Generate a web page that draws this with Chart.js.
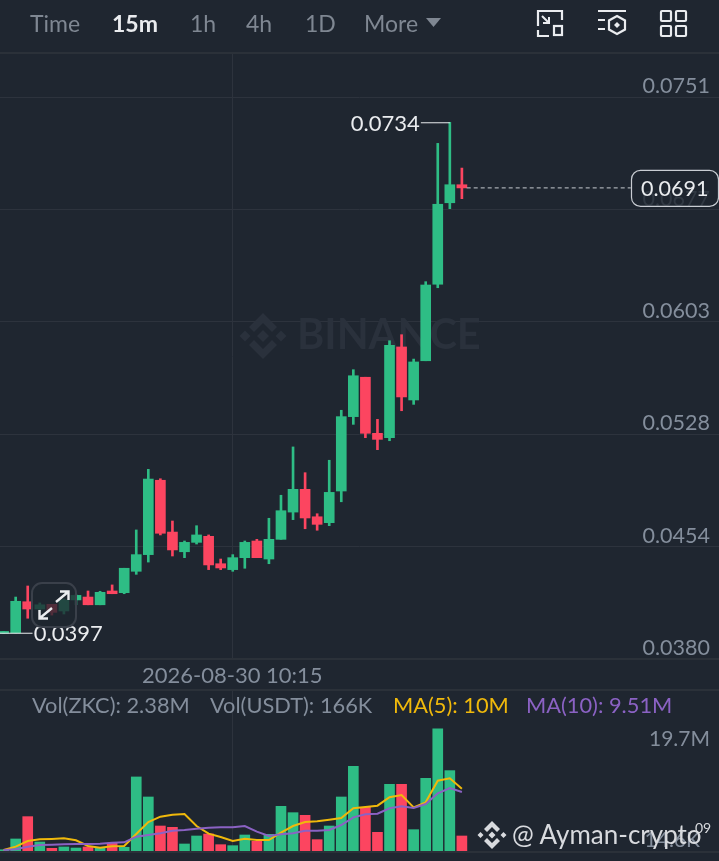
<!DOCTYPE html>
<html>
<head>
<meta charset="utf-8">
<script src="https://cdn.jsdelivr.net/npm/chart.js@4/dist/chart.umd.min.js"></script>
<style>
  html, body { margin: 0; padding: 0; background: #1f2630; }
  #page { position: relative; width: 719px; height: 861px; overflow: hidden; background: #1f2630; font-family: Lato, "Noto Sans", sans-serif; }
  canvas { position: absolute; left: 0; }
  .txt { position: absolute; white-space: nowrap; line-height: 1; }
  .tab { top: 12px; font-size: 23px; color: #7f8792; }
  .leg { top: 694px; font-size: 21.8px; color: #848e9c; }
  .rule { position: absolute; left: 0; width: 719px; background: #2b3139; }
  svg { position: absolute; }
</style>
</head>
<body>
<div id="page">
  <canvas id="PriceChart" width="719" height="680" style="top:0"></canvas>
  <canvas id="VolumeChart" width="719" height="900" style="top:0"></canvas>

  <div class="rule" style="top:52px;height:2px"></div>
  <div class="rule" style="top:658px;height:2px"></div>
  <div class="rule" style="top:689px;height:2px"></div>
  <div class="rule" style="top:851px;height:2px"></div>

  <div class="txt tab" style="left:30px">Time</div>
  <div class="txt tab" style="left:112px;color:#eaecef;font-weight:700">15m</div>
  <div class="txt tab" style="left:190px">1h</div>
  <div class="txt tab" style="left:246px">4h</div>
  <div class="txt tab" style="left:305px">1D</div>
  <div class="txt tab" style="left:364px">More</div>
  <svg style="left:426px;top:18px" width="16" height="10"><path d="M0 0H15L7.5 9Z" fill="#7f8792"/></svg>

  <svg style="left:536px;top:9px" width="30" height="30" fill="none" stroke="#eaecef" stroke-width="2.2">
    <path d="M2 17V2H26V11M2 21V27H13"/><rect x="18" y="17" width="8" height="9"/>
    <path d="M6 7L13 14M13 8V14H7" stroke-width="2"/>
  </svg>
  <svg style="left:596px;top:9px" width="32" height="30" fill="none" stroke="#eaecef" stroke-width="2.2">
    <path d="M2 2H30M2 11H9M2 20H9"/>
    <path d="M21 7L29 11.5V20.5L21 25L13 20.5V11.5Z"/><path d="M21 13L24 16L21 19L18 16Z" fill="#eaecef" stroke="none"/>
  </svg>
  <svg style="left:659px;top:9px" width="30" height="30" fill="none" stroke="#eaecef" stroke-width="2.2">
    <rect x="2" y="2" width="10" height="10" rx="1"/><rect x="17" y="2" width="10" height="10" rx="1"/>
    <rect x="2" y="17" width="10" height="10" rx="1"/><rect x="17" y="17" width="10" height="10" rx="1"/>
  </svg>

  <div class="txt" style="left:142px;top:664px;font-size:22px;color:#848e9c">2026-08-30 10:15</div>

  <div class="txt leg" style="left:32px">Vol(ZKC): 2.38M</div>
  <div class="txt leg" style="left:210px">Vol(USDT): 166K</div>
  <div class="txt leg" style="left:393px;color:#f0b90b">MA(5): 10M</div>
  <div class="txt leg" style="left:526px;color:#8b62c4">MA(10): 9.51M</div>

  <svg style="left:31px;top:582px" width="46" height="46">
    <rect x="1" y="1" width="44" height="44" rx="10" fill="#1f2630" fill-opacity="0.78" stroke="#3a404a" stroke-width="2"/>
    <path d="M25 20L37 10M29 9.500H37.500V18M21 26L9 36M17 36.500H8.500V28" fill="none" stroke="#eaecef" stroke-width="2.4"/>
  </svg>

  <svg style="left:477px;top:820px" width="30" height="30" fill="#d8dade">
    <path d="M15 1L23 9L20 12L15 7L10 12L7 9Z M3.500 12L6.500 15L3.500 18L0.500 15Z M26.500 12L29.500 15L26.500 18L23.500 15Z M15 11.500L18.500 15L15 18.500L11.500 15Z M15 29L23 21L20 18L15 23L10 18L7 21Z"/>
  </svg>
  <div class="txt" style="left:512px;top:821px;font-size:26px;color:#d8dade">@ Ayman-crypto</div>
  <div class="txt" style="left:695px;top:821px;font-size:14px;color:#d8dade">09</div>
</div>
<script>
// candles, oldest first
const opens = [0.0397, 0.03972, 0.04178, 0.0413, 0.04161, 0.04117, 0.0419, 0.04209, 0.04158, 0.04249, 0.04238, 0.04379, 0.04489, 0.0498, 0.04638, 0.04508, 0.0457, 0.0461, 0.04429, 0.0439, 0.04469, 0.04579, 0.0446, 0.0459, 0.0477, 0.0492, 0.04739, 0.047, 0.04909, 0.054, 0.0566, 0.0529, 0.05261, 0.0586, 0.0551, 0.05769, 0.06274, 0.06812, 0.06931];
const closes = [0.03982, 0.04181, 0.0413, 0.04158, 0.04108, 0.0419, 0.0422, 0.04158, 0.0424, 0.04231, 0.04399, 0.04489, 0.04988, 0.0463, 0.0452, 0.0457, 0.04619, 0.04421, 0.04401, 0.04469, 0.0457, 0.04469, 0.0459, 0.04779, 0.0492, 0.04731, 0.04689, 0.049, 0.054, 0.0567, 0.0529, 0.0525, 0.05871, 0.0553, 0.05761, 0.06269, 0.06802, 0.06931, 0.0691];
const highs = [0.03982, 0.04209, 0.04282, 0.0417, 0.04161, 0.04196, 0.04224, 0.04249, 0.04247, 0.04289, 0.04399, 0.04652, 0.05052, 0.0499, 0.04711, 0.04579, 0.0468, 0.04619, 0.0446, 0.04489, 0.04579, 0.0459, 0.04729, 0.04881, 0.052, 0.0503, 0.04759, 0.05112, 0.05442, 0.0571, 0.0566, 0.05382, 0.05901, 0.05941, 0.0578, 0.06291, 0.07204, 0.07343, 0.07041];
const lows = [0.0397, 0.03972, 0.04069, 0.04119, 0.0409, 0.04097, 0.04158, 0.04158, 0.04158, 0.04231, 0.04231, 0.04359, 0.0444, 0.04619, 0.0448, 0.04469, 0.04559, 0.0439, 0.0439, 0.04379, 0.04399, 0.04469, 0.04429, 0.0459, 0.0472, 0.0466, 0.0465, 0.0468, 0.04838, 0.05349, 0.05261, 0.05182, 0.05241, 0.05439, 0.05481, 0.05769, 0.06251, 0.06773, 0.06839];

// volume in millions, plus the two averages as drawn
const volumes = [0.2, 1.94, 5.54, 1.45, 0.43, 0.65, 0.48, 0.65, 0.5, 1.24, 0.6, 11.94, 8.71, 4.03, 3.82, 1.13, 2.42, 2.74, 1.02, 0.86, 2.58, 1.56, 2.69, 7.2, 6.18, 5.75, 1.83, 4.03, 8.71, 13.66, 7.04, 3.01, 10.75, 10.75, 3.44, 11.72, 19.7, 12.96, 2.42];
const ma5 = [0.16, 0.7, 1.61, 1.88, 1.94, 2.04, 1.72, 0.81, 0.54, 0.75, 0.81, 2.74, 4.68, 5.54, 5.86, 5.97, 4.03, 2.8, 2.26, 1.61, 1.99, 1.77, 1.77, 2.96, 4.03, 4.68, 4.78, 5.05, 5.32, 6.88, 7.1, 7.31, 8.66, 9.03, 7.04, 7.85, 11.34, 11.72, 10.05];
const ma10 = [0.16, 0.27, 0.7, 0.97, 1.02, 1.08, 1.13, 1.13, 1.18, 1.34, 1.4, 2.31, 2.58, 2.85, 3.28, 3.39, 3.6, 3.76, 3.82, 3.82, 4.03, 3.12, 2.42, 2.69, 2.85, 3.28, 3.28, 3.39, 4.19, 5.43, 5.91, 6.02, 6.88, 7.2, 6.94, 7.58, 9.3, 10.16, 9.52];

const priceTicks = [0.0751, 0.06768, 0.06026, 0.05284, 0.04542, 0.038];
const lastPrice = 0.0691;
const highPrice = 0.0734;
const lowPrice = 0.0397;
const cursorIndex = 19;

const UP = "#2ebd85";
const DOWN = "#fc4560";
const GRID = "#2d333d";
const TICK = "#848e9c";
const FONT = 'Lato, "Noto Sans", sans-serif';

// candle slots are 12.06px wide, first candle centred at x=3.6
const xMin = -0.2985;
const xMax = 59.32;

Chart.defaults.animation = false;
Chart.defaults.font.family = FONT;

function candleColors() {
  return closes.map((c, i) => (c >= opens[i] ? UP : DOWN));
}

function xScale() {
  return {
    type: "linear",
    min: xMin,
    max: xMax,
    offset: false,
    border: { display: false },
    grid: { color: GRID, drawTicks: false, offset: false },
    ticks: { display: false },
    afterBuildTicks: (axis) => {
      axis.ticks = [{ value: cursorIndex }];
    },
  };
}

//watermark goes under the candles, labels over them
const priceOverlay = {
  id: "priceOverlay",
  beforeDatasetsDraw(chart) {
    const ctx = chart.ctx;
    ctx.save();
    ctx.fillStyle = "#2a313c";
    ctx.font = "700 41.5px " + FONT;
    ctx.textBaseline = "middle";
    ctx.fillText("BINANCE", 297, 336);
    const p = new Path2D("M263 313L277 327L272 332L263 323L254 332L249 327Z M245 330.500L250.500 336L245 341.500L239.500 336Z M281 330.500L286.500 336L281 341.500L275.500 336Z M263 330L269 336L263 342L257 336Z M263 359L277 345L272 340L263 349L254 340L249 345Z");
    ctx.fill(p);
    ctx.restore();
  },
  afterDatasetsDraw(chart) {
    const ctx = chart.ctx;
    const y = chart.scales.y;
    const x = chart.scales.x;
    ctx.save();
    ctx.font = "22px " + FONT;
    ctx.fillStyle = "#eaecef";
    ctx.textBaseline = "middle";
    ctx.textAlign = "right";
    ctx.fillText(highPrice.toFixed(4), x.getPixelForValue(34.5), y.getPixelForValue(highPrice) + 1);
    ctx.textAlign = "left";
    ctx.fillText(lowPrice.toFixed(4), x.getPixelForValue(2.5), y.getPixelForValue(lowPrice) + 1);

    // box sits over the axis label, slightly see-through
    const py = y.getPixelForValue(lastPrice);
    ctx.beginPath();
    ctx.roundRect(631.5, py - 17.5, 87, 36, 9);
    ctx.fillStyle = "rgba(31,38,48,0.82)";
    ctx.fill();
    ctx.strokeStyle = "#c8ccd2";
    ctx.lineWidth = 1.2;
    ctx.stroke();
    ctx.fillStyle = "#eaecef";
    ctx.textAlign = "right";
    ctx.font = "21.5px " + FONT;
    ctx.fillText(lastPrice.toFixed(4), 708.5, py + 1);
    ctx.restore();
  },
};

new Chart(document.getElementById("PriceChart"), {
  type: "bar",
  data: {
    datasets: [
      {
        label: "wick",
        grouped: false,
        barThickness: 2,
        data: highs.map((h, i) => ({ x: i, y: [lows[i], h] })),
        backgroundColor: candleColors(),
        order: 2,
      },
      {
        label: "body",
        grouped: false,
        barThickness: 10,
        data: opens.map((o, i) => ({ x: i, y: [o, closes[i]] })),
        backgroundColor: candleColors(),
        order: 1,
      },
      {
        type: "line",
        label: "last",
        data: [{ x: 38.4, y: lastPrice }, { x: 52, y: lastPrice }],
        borderColor: "#c8ccd2",
        borderWidth: 1,
        borderDash: [4, 3],
        pointRadius: 0,
      },
      {
        type: "line",
        label: "high",
        data: [{ x: 34.6, y: highPrice }, { x: 37, y: highPrice }],
        borderColor: "#eaecef",
        borderWidth: 1,
        pointRadius: 0,
      },
      {
        type: "line",
        label: "low",
        data: [{ x: xMin, y: lowPrice }, { x: 2.4, y: lowPrice }],
        borderColor: "#eaecef",
        borderWidth: 1,
        pointRadius: 0,
      },
    ],
  },
  options: {
    responsive: false,
    layout: { padding: { top: 54, bottom: 21 } },
    plugins: { legend: { display: false }, tooltip: { enabled: false } },
    scales: {
      x: xScale(),
      y: {
        position: "right",
        min: 0.038,
        max: 0.07794,
        border: { display: false },
        grid: { color: GRID, drawTicks: false },
        afterBuildTicks: (axis) => {
          axis.ticks = priceTicks.map((v) => ({ value: v }));
        },
        ticks: {
          mirror: true,
          align: "end",
          padding: -9,
          color: TICK,
          font: { size: 21.5 },
          callback: (v) => v.toFixed(4),
        },
      },
    },
  },
  plugins: [priceOverlay],
});

// canvas runs past the page so the mirrored labels don't eat into the plot height
new Chart(document.getElementById("VolumeChart"), {
  type: "bar",
  data: {
    datasets: [
      {
        label: "MA(5)",
        type: "line",
        data: ma5.map((v, i) => ({ x: i, y: v })),
        borderColor: "#f0b90b",
        borderWidth: 2,
        pointRadius: 0,
        order: 1,
      },
      {
        label: "MA(10)",
        type: "line",
        data: ma10.map((v, i) => ({ x: i, y: v })),
        borderColor: "#8b62c4",
        borderWidth: 2,
        pointRadius: 0,
        order: 0,
      },
      {
        label: "Vol",
        barThickness: 10,
        data: volumes.map((v, i) => ({ x: i, y: v })),
        backgroundColor: candleColors(),
        order: 2,
      },
    ],
  },
  options: {
    responsive: false,
    layout: { padding: { top: 691, bottom: 49 } },
    plugins: { legend: { display: false }, tooltip: { enabled: false } },
    scales: {
      x: xScale(),
      y: {
        position: "right",
        min: 0,
        max: 25.8,
        border: { display: false },
        grid: { display: false },
        afterBuildTicks: (axis) => {
          axis.ticks = [{ value: 19.7 }];
        },
        ticks: {
          mirror: true,
          align: "start",
          padding: -9,
          color: TICK,
          font: { size: 21 },
          callback: (v) => v + "M",
        },
      },
      yBottom: {
        position: "right",
        min: 0,
        max: 25.8,
        border: { display: false },
        grid: { display: false },
        afterBuildTicks: (axis) => {
          axis.ticks = [{ value: 0 }];
        },
        ticks: {
          mirror: true,
          align: "end",
          padding: -9,
          color: TICK,
          font: { size: 21 },
          callback: () => "14.6K",
        },
      },
    },
  },
});
</script>
</body>
</html>
